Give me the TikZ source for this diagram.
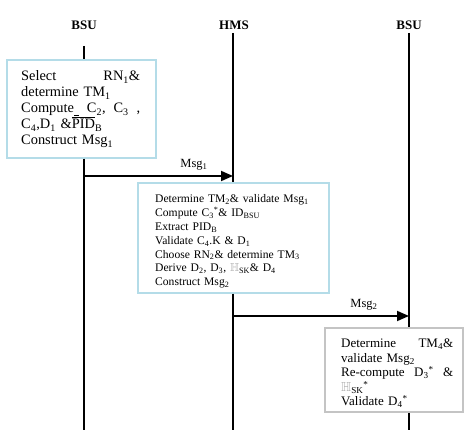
\documentclass[tikz,border=0pt]{standalone}
\usepackage{fontspec}
\setmainfont{Liberation Serif}
\usepackage{amssymb}
\usetikzlibrary{arrows.meta}
\definecolor{boxblue}{HTML}{B4DCE8}
\definecolor{boxgray}{HTML}{C4C4C4}
\newcommand\sbs[1]{\textsubscript{#1}}
\newcommand\sps[1]{\textsuperscript{#1}}
\newcommand\HSK{{\color{gray!70}$\mathbb{H}$}\sbs{SK}}
\begin{document}
\begin{tikzpicture}[x=1pt,y=-1pt,
  head/.style={font=\fontsize{13}{15}\selectfont\bfseries, inner sep=0pt},
  life/.style={line width=2pt},
  msg/.style={line width=1.8pt,-{Triangle[length=12pt,width=10pt]}},
  msglabel/.style={font=\fontsize{12.5}{14}\selectfont, inner sep=0pt, anchor=base},
  procbox/.style={draw=#1, line width=1.5pt, fill=white, inner sep=0pt},
  bigtxt/.style={font=\fontsize{14.4}{16}\selectfont, inner sep=0pt, anchor=base west},
  smalltxt/.style={font=\fontsize{11.6}{13.8}\selectfont, inner sep=0pt, anchor=base west}]
\useasboundingbox (0,0) rectangle (474,430);
% headers
\node[head] (h1) at (84,25) {BSU};
\node[head] (h2) at (234,25) {HMS};
\node[head] (h3) at (409,25) {BSU};
% lifeline end points
\coordinate (l1top) at (84,46);
\coordinate (l2top) at (233,33);
\coordinate (l3top) at (409,33);
\coordinate (l1bot) at (84,430);
\coordinate (l2bot) at (233,430);
\coordinate (l3bot) at (409,430);
% boxes
\node[procbox=boxblue, minimum width=149pt, minimum height=98pt] (b1) at (81.5,109) {};
\node[procbox=boxblue, minimum width=191pt, minimum height=110pt] (b2) at (233.5,238) {};
\node[procbox=boxgray, minimum width=138pt, minimum height=84pt] (b3) at (394,370) {};
% lifelines
\draw[life] (l1top) -- (l1top |- b1.north);
\draw[life] (l1top |- b1.south) -- (l1bot);
\draw[life] (l2top) -- (l2top |- b2.north);
\draw[life] (l2top |- b2.south) -- (l2bot);
\draw[life] (l3top) -- (l3top |- b3.north);
\draw[life] (l3top |- b3.south) -- (l3bot);
% box texts
\node[bigtxt, text width=119pt] (t1) at (21,81) {%
Select\hfill RN\sbs{1}\&\\
determine TM\sbs{1}\\
Compute\underline{\hspace{5pt}}\hfill C\sbs{2},\hfill C\sbs{3}\hfill ,\\
C\sbs{4},D\sbs{1} \&$\overline{\mbox{PID}}$\sbs{B}\\
Construct Msg\sbs{1}};
\node[smalltxt, text width=170pt] (t2) at (155,203) {%
Determine TM\sbs{2}\& validate Msg\sbs{1}\\
Compute C\sbs{3}\sps{*}\& ID\sbs{BSU}\\
Extract PID\sbs{B}\\
Validate C\sbs{4}.K \& D\sbs{1}\\
Choose RN\sbs{2}\& determine TM\sbs{3}\\
Derive D\sbs{2}, D\sbs{3}, \HSK\& D\sbs{4}\\
Construct Msg\sbs{2}};
\node[smalltxt, text width=112pt, font=\fontsize{13}{14.5}\selectfont] (t3) at (341,348) {%
Determine\hfill TM\sbs{4}\&\\
validate Msg\sbs{2}\\
Re-compute\hfill D\sbs{3}\sps{*}\hfill \&\\
\HSK\sps{*}\\
Validate D\sbs{4}\sps{*}};
% messages
\coordinate (m1a) at (84,176);
\coordinate (m1b) at (233,176);
\coordinate (m2a) at (233,316);
\coordinate (m2b) at (409,316);
\draw[msg] (m1a) -- (m1b);
\draw[msg] (m2a) -- (m2b);
\node[msglabel] (ml1) at (194,168) {Msg\sbs{1}};
\node[msglabel] (ml2) at (364,308) {Msg\sbs{2}};
\end{tikzpicture}
\end{document}
